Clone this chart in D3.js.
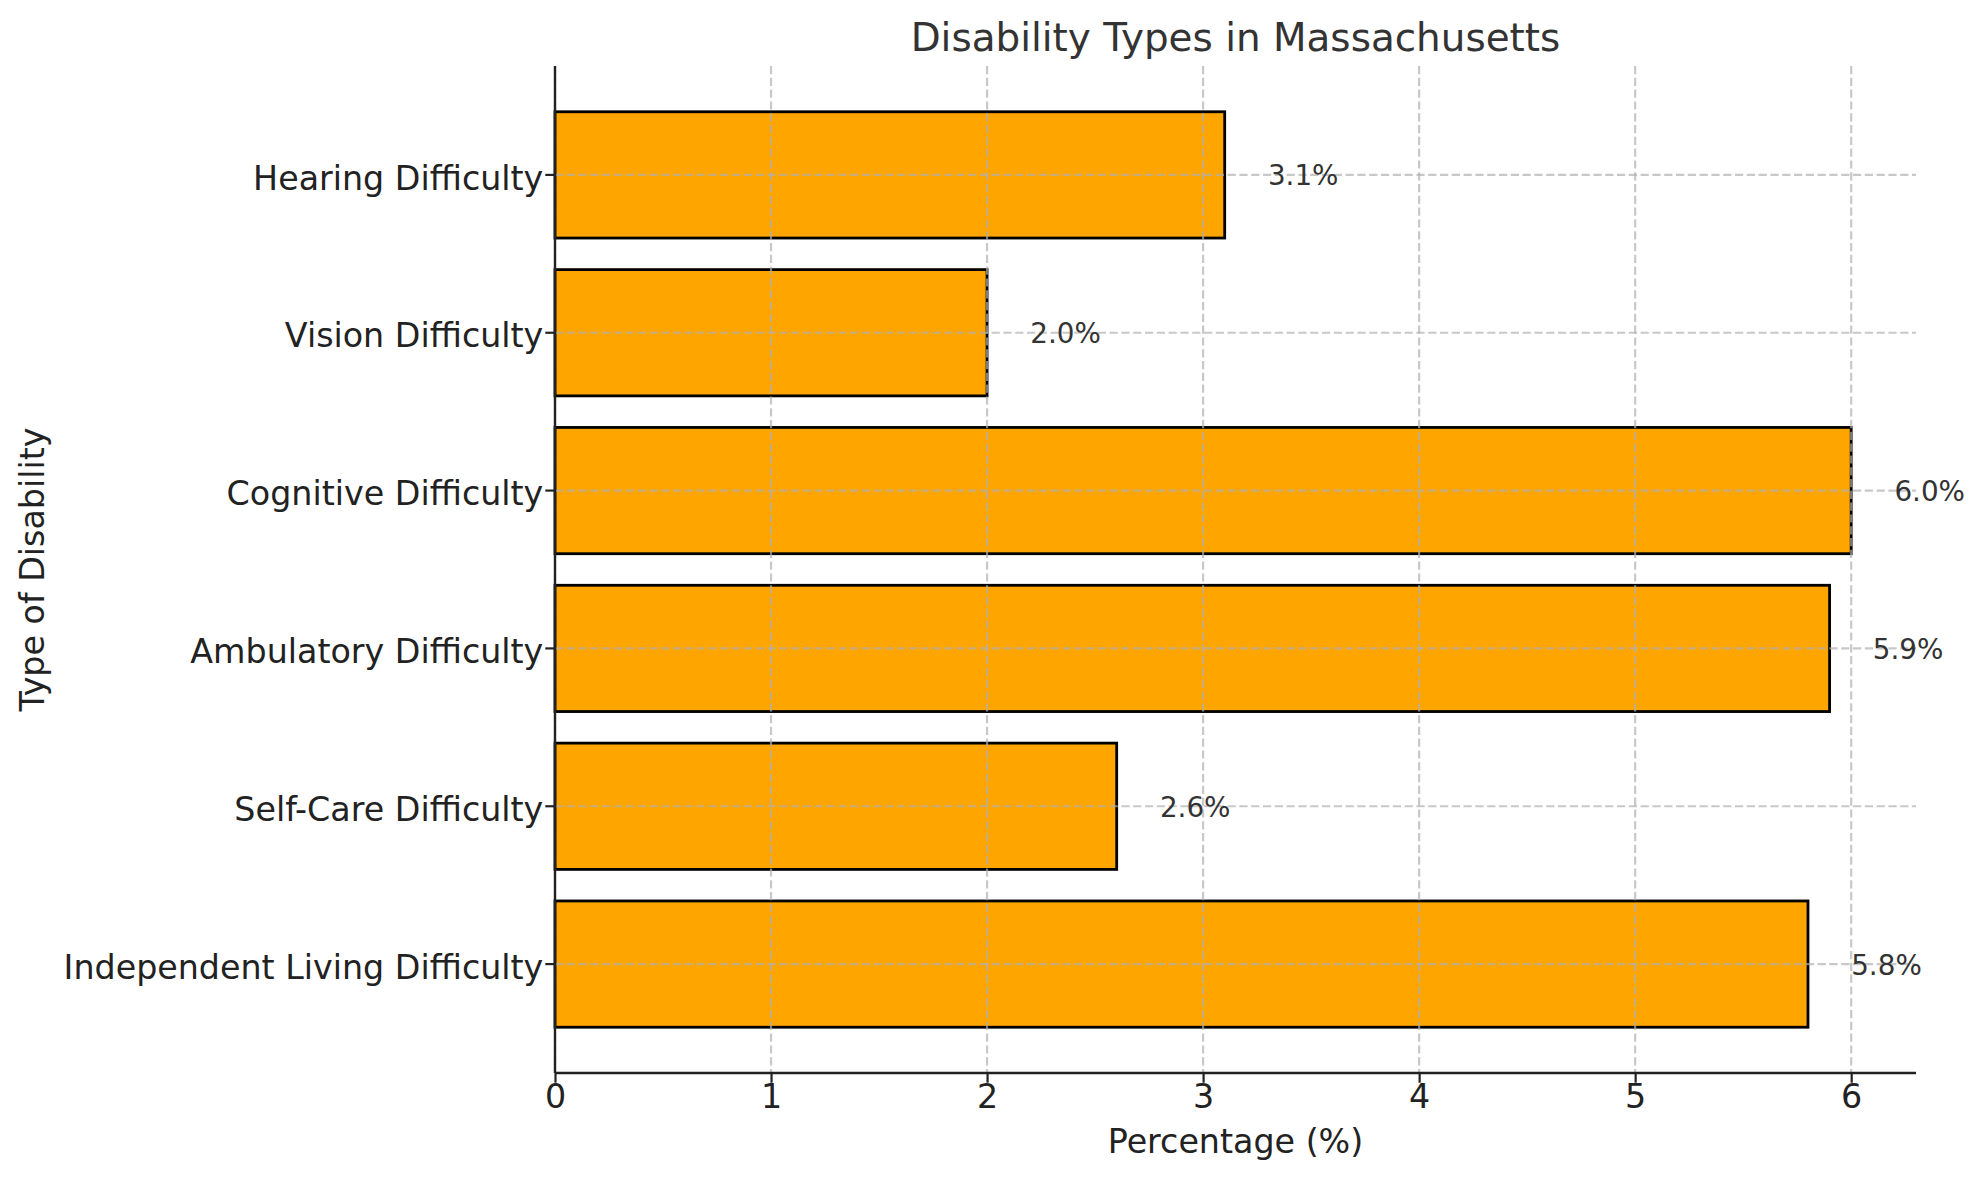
<!DOCTYPE html>
<html>
<head>
<meta charset="utf-8">
<script src="https://cdn.jsdelivr.net/npm/d3@7"></script>
<style>
  body { margin: 0; background: #fff; }
  svg { display: block; font-family: "DejaVu Sans", sans-serif; }
</style>
</head>
<body>
<div id="chart"></div>
<script>
const categories = ["Hearing Difficulty", "Vision Difficulty", "Cognitive Difficulty",
  "Ambulatory Difficulty", "Self-Care Difficulty", "Independent Living Difficulty"];
const percentages = [3.1, 2.0, 6.0, 5.9, 2.6, 5.8];
const xTicks = [0, 1, 2, 3, 4, 5, 6];

const width = 1983;
const height = 1180;
const margin = { top: 66, right: 67, bottom: 107, left: 555 };

const svg = d3.select("#chart")
  .append("svg")
  .attr("width", width)
  .attr("height", height);

const x = d3.scaleLinear()
  .domain([0, 6.3])
  .range([margin.left, width - margin.right]);

const y = d3.scaleBand()
  .domain(categories)
  .range([margin.top, height - margin.bottom])
  .paddingInner(0.2)
  .paddingOuter(0.29);

const data = categories.map((c, i) => ({ cat: c, value: percentages[i] }));

// bars
svg.append("g")
  .selectAll("rect")
  .data(data)
  .join("rect")
  .attr("x", x(0))
  .attr("y", d => y(d.cat))
  .attr("width", d => x(d.value) - x(0))
  .attr("height", y.bandwidth())
  .attr("fill", "#FFA500")
  .attr("stroke", "#000")
  .attr("stroke-width", 2.8);

// grid, drawn over the bars like the original
const grid = svg.append("g")
  .attr("stroke", "#b0b0b0")
  .attr("stroke-opacity", 0.7)
  .attr("stroke-width", 2.2)
  .attr("stroke-dasharray", "8.2,3.6");

grid.selectAll("line.v")
  .data(xTicks)
  .join("line")
  .attr("class", "v")
  .attr("x1", d => x(d)).attr("x2", d => x(d))
  .attr("y1", margin.top).attr("y2", height - margin.bottom);

grid.selectAll("line.h")
  .data(categories)
  .join("line")
  .attr("class", "h")
  .attr("x1", x(0)).attr("x2", width - margin.right)
  .attr("y1", d => y(d) + y.bandwidth() / 2)
  .attr("y2", d => y(d) + y.bandwidth() / 2);

// value labels
svg.append("g")
  .selectAll("text")
  .data(data)
  .join("text")
  .attr("x", d => x(d.value + 0.2))
  .attr("y", d => y(d.cat) + y.bandwidth() / 2)
  .attr("dy", "0.38em")
  .attr("font-size", 27.8)
  .attr("fill", "#333")
  .text(d => d.value.toFixed(1) + "%");

// axes
const xAxis = svg.append("g")
  .attr("transform", `translate(0,${height - margin.bottom})`)
  .call(d3.axisBottom(x).tickValues(xTicks).tickFormat(d3.format("d"))
    .tickSizeInner(9.7).tickSizeOuter(0).tickPadding(2));

const yAxis = svg.append("g")
  .attr("transform", `translate(${margin.left},0)`)
  .call(d3.axisLeft(y).tickSizeInner(9.7).tickSizeOuter(0).tickPadding(2));

[xAxis, yAxis].forEach(g => {
  g.select(".domain").attr("stroke", "#222").attr("stroke-width", 2.4);
  g.selectAll(".tick line").attr("stroke", "#222").attr("stroke-width", 2.2);
  g.selectAll(".tick text")
    .attr("font-size", 33.3)
    .attr("font-family", "DejaVu Sans, sans-serif")
    .attr("fill", "#222");
});
yAxis.selectAll(".tick text").attr("dy", "0.44em");
xAxis.select(".domain").attr("d", `M${x(0)},0H${width - margin.right}`);
yAxis.select(".domain").attr("d", `M0,${margin.top}V${height - margin.bottom}`);

// titles
svg.append("text")
  .attr("x", (x(0) + width - margin.right) / 2)
  .attr("y", 51)
  .attr("text-anchor", "middle")
  .attr("font-size", 38.9)
  .attr("fill", "#333")
  .text("Disability Types in Massachusetts");

svg.append("text")
  .attr("x", (x(0) + width - margin.right) / 2)
  .attr("y", 1153)
  .attr("text-anchor", "middle")
  .attr("font-size", 33.3)
  .attr("fill", "#222")
  .text("Percentage (%)");

svg.append("text")
  .attr("transform", `translate(44,${(margin.top + height - margin.bottom) / 2}) rotate(-90)`)
  .attr("text-anchor", "middle")
  .attr("font-size", 33.3)
  .attr("fill", "#222")
  .text("Type of Disability");
</script>
</body>
</html>
